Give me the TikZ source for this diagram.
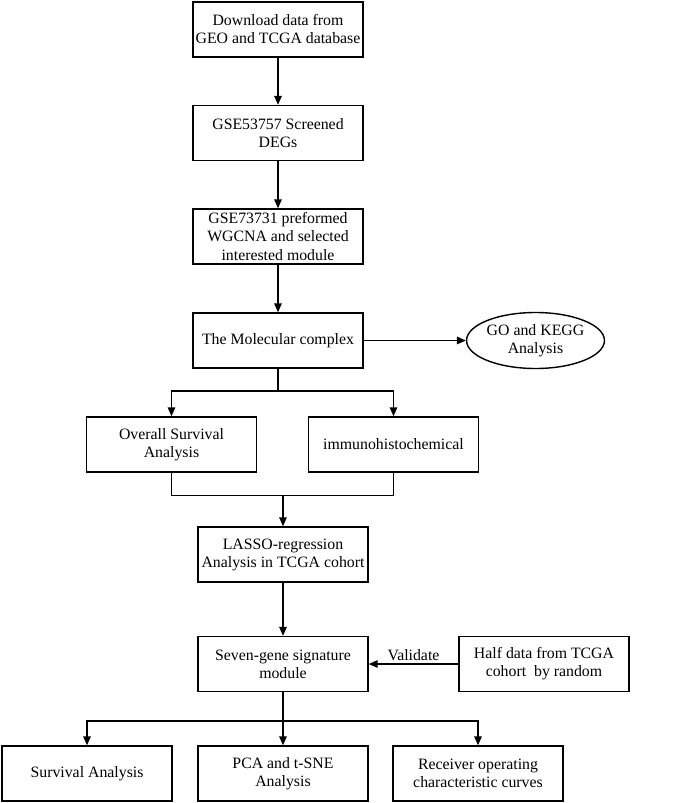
\documentclass[tikz,border=0pt]{standalone}
\usepackage{fontspec}
\setmainfont{Liberation Serif}
\usetikzlibrary{shapes,arrows,arrows.meta,positioning}
\tikzset{%
    stage/.style={%
        rectangle, minimum width=6.8cm, minimum height=2.2cm, text centered, align=center, draw=black, line width=1.6pt, inner sep=1pt, font=\fontsize{18}{20.5}\selectfont
    },
    analysis/.style={%
        ellipse, minimum width=5cm, minimum height=2.24cm, inner sep=0pt, align=center, draw=black, line width=1.6pt, font=\fontsize{18}{20.5}\selectfont
    },
    flow/.style={%
        -{Triangle[length=0.36cm,width=0.3cm]}, line width=1.7pt
    },
    link/.style={%
        line width=1.7pt
    },
    txt/.style={%
        font=\fontsize{18}{20.5}\selectfont
    },
}

\begin{document}
\begin{tikzpicture}
      \useasboundingbox (0,0) rectangle (27.68,-32.12);

      \node[stage] (download) at (11.12,-1.18) {Download data from\\GEO and TCGA database};
      \node[stage] (degs) at (11.12,-5.32) {GSE53757 Screened\\DEGs};
      \node[stage] (wgcna) at (11.12,-9.46) {GSE73731 preformed\\WGCNA and selected\\ interested module};
      \node[stage] (mol) at (11.12,-13.62) {The Molecular complex};
      \node[analysis] (gokegg) at (21.42,-13.62) {GO and KEGG\\Analysis};

      \node[stage] (os) at (6.86,-17.78) {Overall Survival\\Analysis};
      \node[stage] (ihc) at (15.74,-17.78) {immunohistochemical};
      \node[stage] (lasso) at (11.32,-22.18) {LASSO-regression\\Analysis in TCGA cohort};
      \node[stage] (seven) at (11.32,-26.56) {Seven-gene signature\\module};
      \node[stage] (half) at (21.76,-26.56) {Half data from TCGA\\cohort~~by random};

      \node[stage] (surv) at (3.48,-30.94) {Survival Analysis};
      \node[stage] (pca) at (11.32,-30.94) {PCA and t-SNE\\Analysis};
      \node[stage] (roc) at (19.12,-30.94) {Receiver operating\\characteristic curves};

      \coordinate (split1) at (11.12,-15.64);
      \coordinate (merge) at (11.32,-19.82);
      \coordinate (split2) at (11.32,-28.84);

      \draw [flow] (download) -- (degs);
      \draw [flow] (degs) -- (wgcna);
      \draw [flow] (wgcna) -- (mol);
      \draw [flow] (mol) -- (gokegg);

      \draw [link] (mol) -- (split1);
      \draw [flow] (split1) -| (os);
      \draw [flow] (split1) -| (ihc);
      \draw [link] (os) |- (merge) -| (ihc);
      \draw [flow] (merge) -- (lasso);

      \draw [flow] (lasso) -- (seven);
      \draw [flow] (half) -- (seven) node[txt, midway, above]{Validate};

      \draw [link] (seven) -- (split2);
      \draw [flow] (split2) -| (surv);
      \draw [flow] (split2) -- (pca);
      \draw [flow] (split2) -| (roc);
    \end{tikzpicture}
\end{document}
